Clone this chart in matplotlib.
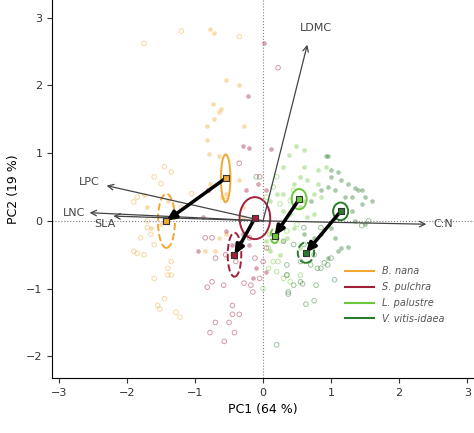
import matplotlib
matplotlib.use("Agg")
import matplotlib.pyplot as plt
from matplotlib.patches import Ellipse
from matplotlib.lines import Line2D

species = ["B. nana", "S. pulchra", "L. palustre", "V. vitis-idaea"]
colors = ["#F0A830", "#A0203A", "#6CC83A", "#2A7A2A"]

# sample scores (PC1, PC2): open = one year, filled = other
open_pts = {
    "B. nana": [(-1.2, 2.8), (-1.75, 2.62), (-0.35, 2.72), (-1.45, 0.8), (-1.35, 0.72), (-1.6, 0.65),
                (-1.5, 0.55), (-1.85, 0.35), (-1.9, 0.28), (-1.05, 0.4), (-1.2, 0.2), (-1.7, -0.1),
                (-1.8, -0.25), (-1.6, -0.35), (-1.9, -0.45), (-1.85, -0.48), (-1.75, -0.5), (-1.35, -0.6),
                (-1.4, -0.7), (-1.35, -0.8), (-1.4, -0.8), (-1.6, -0.85), (-1.45, -1.15), (-1.55, -1.25),
                (-1.52, -1.3), (-1.28, -1.35), (-1.22, -1.42), (-0.45, -0.5), (-0.55, 0.3), (-1.7, 0.0),
                (-1.65, -0.2)],
    "S. pulchra": [(-0.35, 0.85), (-0.05, 0.65), (-0.85, -0.25), (-0.75, -0.25), (-0.7, -0.55), (-0.55, -0.5),
                   (-0.4, -0.6), (-0.75, -0.9), (-0.82, -0.98), (-0.58, -0.95), (-0.28, -0.92), (-0.18, -0.95),
                   (-0.15, -1.05), (-0.45, -1.25), (-0.45, -1.38), (-0.35, -1.38), (-0.7, -1.5), (-0.5, -1.5),
                   (-0.78, -1.65), (-0.42, -1.65), (-0.57, -1.78), (-0.05, -0.85), (0.0, -0.6), (-0.2, -0.25),
                   (0.05, -0.4), (-0.12, -0.55), (0.22, 2.26), (-0.8, 0.45)],
    "L. palustre": [(0.15, 0.5), (0.2, 0.65), (0.25, 0.25), (0.05, 0.35), (0.25, -0.05), (0.1, -0.2),
                    (0.08, -0.4), (0.22, -0.6), (0.2, -0.75), (0.35, -0.8), (0.3, -0.85), (0.15, -0.6),
                    (0.0, -1.0), (0.08, -0.7), (0.4, -0.9), (0.35, -0.15), (0.5, -0.05), (0.45, 0.45),
                    (0.4, 0.3), (0.55, -0.8)],
    "V. vitis-idaea": [(-0.1, 0.65), (0.3, -0.3), (0.45, -0.35), (0.6, -0.35), (0.75, -0.5), (0.7, -0.65),
                       (0.8, -0.7), (0.85, -0.7), (0.35, -0.65), (0.35, -0.8), (0.45, -0.95), (0.55, -0.9),
                       (0.58, -0.93), (0.78, -0.95), (0.75, -1.18), (0.63, -1.23), (0.37, -1.08), (0.37, -1.05),
                       (0.2, -1.83), (1.05, -0.87), (0.9, -0.62), (1.55, 0.0), (1.45, -0.07), (0.95, -0.65),
                       (0.55, -0.6), (1.0, -0.55), (0.85, -0.1), (0.6, -0.1)],
}
filled_pts = {
    "B. nana": [(-0.78, 2.83), (-0.72, 2.77), (-0.55, 2.08), (-0.35, 2.0), (-0.73, 1.73), (-0.65, 1.6),
                (-0.62, 1.65), (-0.72, 1.5), (-0.28, 1.4), (-0.82, 1.4), (-0.82, 1.2), (-0.8, 0.98),
                (-0.65, 0.95), (-0.55, 0.4), (-0.78, 0.55), (-0.6, 0.35), (-0.3, 0.2), (-0.35, 0.6),
                (-1.75, 0.38), (-1.4, 0.3), (-1.7, 0.2), (-1.5, -0.05), (-1.65, -0.1), (-0.55, -0.2),
                (-0.7, -0.45), (-0.3, 0.05), (-0.85, -0.45), (-0.65, -0.25)],
    "S. pulchra": [(0.02, 2.62), (-0.22, 1.85), (-0.3, 1.1), (-0.2, 1.08), (0.12, 1.06), (-0.08, 0.55),
                   (-0.25, 0.45), (0.05, 0.45), (-0.88, 0.05), (-0.95, -0.45), (-0.3, -0.2), (-0.2, -0.35),
                   (-0.1, -0.7), (0.05, -0.75), (-0.15, -0.85), (-0.55, -0.15), (-0.45, -0.35)],
    "L. palustre": [(0.48, 1.1), (0.6, 1.05), (0.38, 0.97), (0.3, 0.8), (0.6, 0.8), (0.55, 0.65), (0.65, 0.6),
                    (0.8, 0.55), (0.45, 0.55), (0.3, 0.4), (0.2, 0.4), (0.6, 0.3), (0.75, 0.4), (0.85, 0.35),
                    (0.3, 0.15), (0.4, 0.1), (0.1, 0.3), (0.55, 0.2), (0.45, -0.1), (0.35, -0.25), (0.3, -0.3),
                    (0.05, -0.3), (0.1, -0.45), (0.25, -0.5), (0.55, -0.4), (0.65, 0.05), (0.75, 0.1),
                    (0.92, 0.8), (0.8, 0.75)],
    "V. vitis-idaea": [(0.92, 0.95), (0.95, 0.95), (1.0, 0.75), (1.1, 0.72), (1.15, 0.6), (1.0, 0.65),
                       (1.25, 0.55), (1.35, 0.48), (1.4, 0.45), (1.45, 0.45), (1.5, 0.35), (1.6, 0.3),
                       (1.45, 0.25), (1.2, 0.35), (1.05, 0.45), (0.95, 0.5), (0.85, 0.45), (1.3, 0.15),
                       (1.35, 0.0), (1.5, -0.05), (1.25, -0.38), (1.0, -0.1), (1.05, -0.25), (0.85, -0.2),
                       (0.75, -0.25), (0.6, -0.2), (0.95, -0.55), (1.1, -0.45), (1.15, -0.4), (0.7, 0.3),
                       (1.3, 0.35)],
}

# centroid shift: start (solid ellipse) -> end (dashed ellipse)
start = [(-0.55, 0.63), (-0.12, 0.04), (0.53, 0.32), (1.14, 0.14)]
end = [(-1.42, 0.0), (-0.42, -0.5), (0.17, -0.22), (0.63, -0.47)]
start_wh = [(0.14, 0.7), (0.45, 0.62), (0.22, 0.3), (0.22, 0.26)]
end_wh = [(0.25, 0.8), (0.2, 0.65), (0.12, 0.22), (0.24, 0.3)]

# trait loadings
traits = ["LDMC", "LPC", "LNC", "SLA", "C:N"]
load_x = [0.65, -2.3, -2.55, -2.2, 2.4]
load_y = [2.6, 0.52, 0.12, 0.07, -0.05]
lab_x = [0.78, -2.55, -2.78, -2.33, 2.65]
lab_y = [2.85, 0.57, 0.12, -0.05, -0.05]

fig = plt.figure(figsize=(4.74, 4.33), dpi=100)
ax = fig.add_axes([0.11, 0.127, 0.89, 0.873])

for sp, c in zip(species, colors):
    ox, oy = zip(*open_pts[sp])
    ax.scatter(ox, oy, s=11, facecolors="none", edgecolors=c, alpha=0.45, linewidths=0.7)
    fx, fy = zip(*filled_pts[sp])
    ax.scatter(fx, fy, s=11, color=c, alpha=0.4, linewidths=0)

ax.axhline(0, color="gray", ls=":", lw=0.8)
ax.axvline(0, color="gray", ls=":", lw=0.8)

for t, x, y, lx, ly in zip(traits, load_x, load_y, lab_x, lab_y):
    ax.annotate("", xy=(x, y), xytext=(0, 0),
                arrowprops=dict(arrowstyle="->,head_width=0.2,head_length=0.4", color="#444444",
                                lw=0.9, shrinkA=0, shrinkB=0))
    ax.text(lx, ly, t, color="#444444", fontsize=8, ha="center", va="center")

for c, s, e, sw, ew in zip(colors, start, end, start_wh, end_wh):
    ax.add_patch(Ellipse(s, sw[0], sw[1], fill=False, ec=c, lw=1.4))
    ax.add_patch(Ellipse(e, ew[0], ew[1], fill=False, ec=c, lw=1.4, ls="--"))
    ax.annotate("", xy=e, xytext=s,
                arrowprops=dict(arrowstyle="-|>,head_width=0.25,head_length=0.55", color="black",
                                lw=2.5, shrinkA=0, shrinkB=0))
    for p in (s, e):
        ax.scatter(*p, marker="s", s=20, color=c, edgecolors="#333333", linewidths=0.8, zorder=5)

handles = [Line2D([], [], color=c, lw=1.5) for c in colors]
leg = ax.legend(handles, species, loc="lower right", bbox_to_anchor=(0.95, 0.12), frameon=False,
                prop={"style": "italic", "size": 7}, handlelength=3, labelspacing=0.6)
for txt in leg.get_texts():
    txt.set_color("#555555")

ax.set_xlim(-3.1, 3.1)
ax.set_ylim(-2.32, 3.26)
ax.set_xticks([-3, -2, -1, 0, 1, 2, 3])
ax.set_yticks([-2, -1, 0, 1, 2, 3])
ax.spines["top"].set_visible(False)
ax.spines["right"].set_visible(False)
ax.tick_params(labelsize=8, direction="out", colors="#333333")
ax.set_xlabel("PC1 (64 %)", fontsize=9)
ax.set_ylabel("PC2 (19 %)", fontsize=9)
fig.savefig("out.png", dpi=100)
